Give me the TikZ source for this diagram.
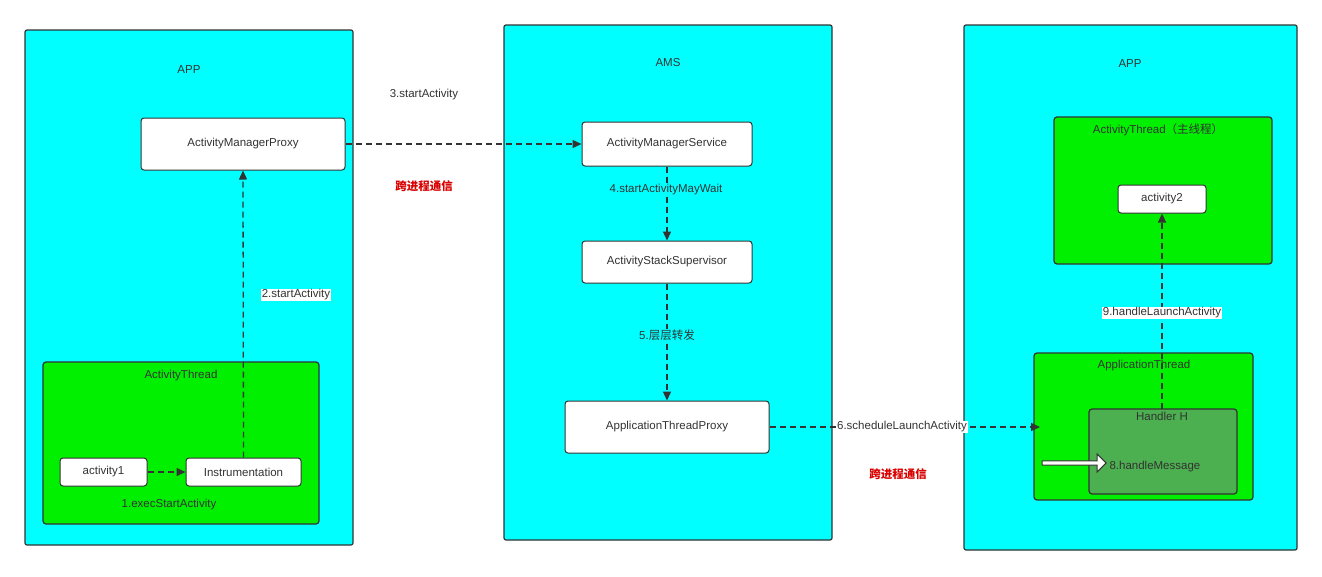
\documentclass[tikz,border=0pt]{standalone}
\usepackage{fontspec}
\setmainfont{Liberation Sans}
\newfontfamily\cjk{Noto Sans CJK SC}
\usetikzlibrary{arrows.meta,shapes.arrows}
\definecolor{cy}{HTML}{00FFFF}
\definecolor{gr}{HTML}{00F000}
\definecolor{hg}{HTML}{4CAF50}
\definecolor{ln}{HTML}{333333}
\begin{document}
\begin{tikzpicture}[x=1pt,y=-1pt,font=\fontsize{11.5}{13}\selectfont,text=ln,
  cont/.style={draw=ln,line width=1.2pt,fill=cy,rounded corners=2pt},
  grn/.style={draw=ln,line width=1.2pt,fill=gr,rounded corners=3pt},
  wbox/.style={draw=ln,line width=1pt,fill=white,rounded corners=3pt},
  conn/.style={draw=ln,line width=1.3pt,dash pattern=on 6pt off 4pt,-{Triangle[length=9pt,width=8pt]}},
  red/.style={text=red!85!black,font=\cjk\fontsize{11.5}{13}\selectfont\bfseries}]
\useasboundingbox (0,0) rectangle (1322,576);
\fill[white] (0,0) rectangle (1322,576);
% containers
\draw[cont] (25,30) rectangle (353,545);
\draw[cont] (504,25) rectangle (832,540);
\draw[cont] (964,25) rectangle (1297,550);
\node (app1) at (189,70) {APP};
\node (ams) at (668,63) {AMS};
\node (app2) at (1130,64) {APP};
% left
\draw[grn] (43,362) rectangle (319,524);
\node (at1) at (181,376) {ActivityThread};
\node[wbox,minimum width=204pt,minimum height=52pt] (amp) at (243,144) {ActivityManagerProxy};
\node[wbox,minimum width=87pt,minimum height=28pt] (a1) at (103.5,472) {activity1};
\node[wbox,minimum width=115pt,minimum height=28pt] (ins) at (243.5,472) {Instrumentation};
\node (l1) at (169,505) {1.execStartActivity};
% middle
\node[wbox,minimum width=170pt,minimum height=44pt] (ams1) at (667,144) {ActivityManagerService};
\node[wbox,minimum width=170pt,minimum height=42pt] (ass) at (667,262) {ActivityStackSupervisor};
\node[wbox,minimum width=204pt,minimum height=52pt] (atp) at (667,427) {ApplicationThreadProxy};
% right
\draw[grn] (1054,117) rectangle (1272,264);
\node at (1158,130) {ActivityThread{\cjk（主线程）}};
\node[wbox,minimum width=88pt,minimum height=28pt] (a2) at (1162,199) {activity2};
\draw[grn] (1034,353) rectangle (1253,500);
\node (apt) at (1144,366) {ApplicationThread};
\draw[draw=ln,line width=1.2pt,fill=hg,rounded corners=3pt] (1089,409) rectangle (1237,494);
\coordinate (htop) at (1162,409);
\coordinate (atleft) at (1040,427);
\node (hh) at (1162,416) {Handler H};
\node[anchor=west] (hm) at (1106,467) {8.handleMessage};
% connectors
\draw[conn] (amp.east) -- (ams1.west);
\draw[conn] (ins.north) -- (amp.south);
\draw[conn] (a1.east) -- (ins.west);
\draw[conn] (ams1.south) -- (ass.north);
\draw[conn] (ass.south) -- (atp.north);
\draw[conn] (atp.east) -- (atleft);
\draw[conn] (htop) -- (a2.south);
\node[single arrow,draw=ln,line width=1pt,fill=white,minimum height=64pt,minimum width=18pt,single arrow head extend=5pt,inner sep=1pt] (wa) at (1073,463) {};
% labels
\node (l3) at (424,95) {3.startActivity};
\node[red] (r1) at (424,186) {跨进程通信};
\node[fill=white,inner sep=1pt] (l2) at (296,295) {2.startActivity};
\node[fill=cy,inner sep=1pt] (l4) at (666,190) {4.startActivityMayWait};
\node[fill=cy,inner sep=1pt] (l5) at (667,335) {5.{\cjk 层层转发}};
\node[fill=white,inner sep=1pt] (l6) at (902,427) {6.scheduleLaunchActivity};
\node[red] (r2) at (898,474) {跨进程通信};
\node[fill=white,inner sep=1pt] (l9) at (1162,313) {9.handleLaunchActivity};
\end{tikzpicture}
\end{document}
